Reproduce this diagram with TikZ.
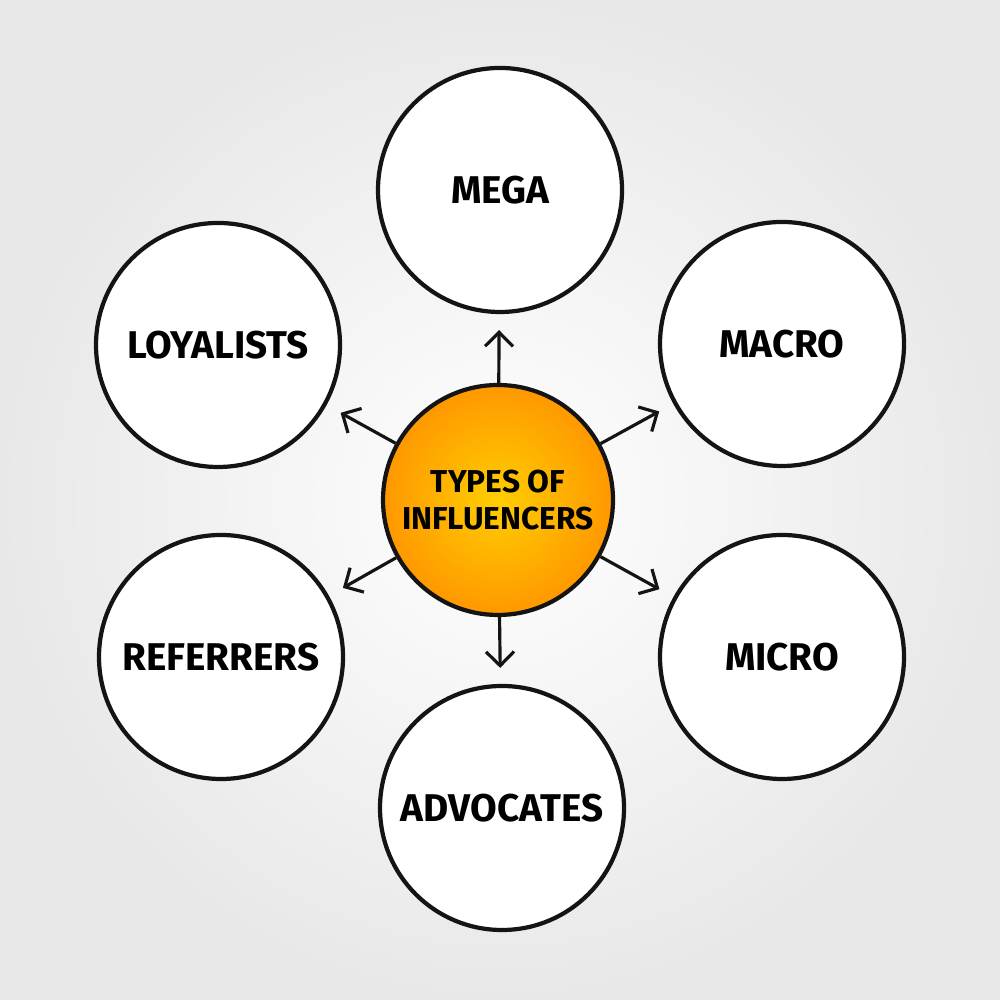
\documentclass[tikz,border=0pt]{standalone}
\usepackage{fontspec}
\usepackage{tikz}
\usetikzlibrary{arrows.meta, positioning}
\newfontfamily\handfont{Fira Sans}
\definecolor{hubin}{RGB}{255,206,0}
\definecolor{hubout}{RGB}{255,152,0}
\definecolor{rim}{RGB}{20,20,20}
\tikzset{
	bubble/.style={circle, draw=rim, line width=1.2pt, fill=white, minimum size=2.44cm, inner sep=0pt,
		font=\handfont\bfseries\fontsize{11}{13}\selectfont},
	hubnode/.style={bubble, minimum size=2.3cm, inner color=hubin, outer color=hubout, align=center,
		font=\handfont\bfseries\fontsize{9}{10.5}\selectfont},
	pointer/.style={-{Straight Barb[length=1.4mm, width=2.8mm]}, line width=0.9pt, draw=rim, shorten >=0.16cm}
}
\begin{document}
\begin{tikzpicture}
			\useasboundingbox (0,0) rectangle (10,10);
			\shade[inner color=white, outer color=gray!18] (0,0) rectangle (10,10);
			\node[hubnode] (hub) at (4.98,5.00) {TYPES OF\\INFLUENCERS};
			\foreach \name/\pos/\label in {mega/{5.00,8.10}/MEGA, macro/{7.82,6.56}/MACRO, micro/{7.82,3.43}/MICRO,
				advocates/{5.02,1.92}/ADVOCATES, referrers/{2.21,3.43}/REFERRERS, loyalists/{2.18,6.55}/LOYALISTS}{
				\node[bubble] (\name) at (\pos) {\label};
				\draw[pointer] (hub) -- (\name);
			}
		\end{tikzpicture}
\end{document}
